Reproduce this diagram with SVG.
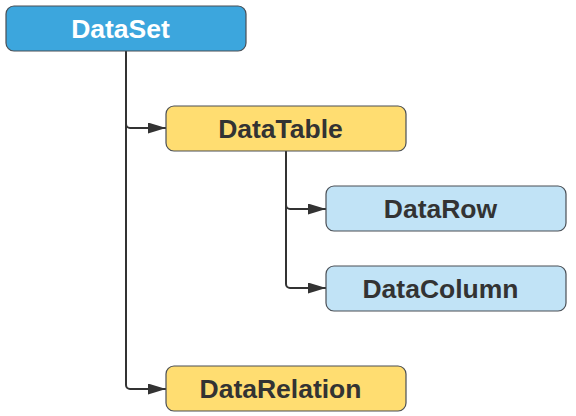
<svg xmlns="http://www.w3.org/2000/svg" width="576" height="416" viewBox="0 0 576 416">
<style>
.box{stroke:#4a4f55;stroke-width:1.2}
.blue{fill:#3ca6dd}
.yellow{fill:#ffdd71}
.light{fill:#c1e3f6}
.lbl{font-family:"Liberation Sans",Arial,sans-serif;font-weight:bold;font-size:26.5px;text-anchor:middle;fill:#333333}
.white{fill:#ffffff}
.conn{fill:none;stroke:#333333;stroke-width:2}
</style>
<defs>
<marker id="arr" markerUnits="userSpaceOnUse" markerWidth="18" markerHeight="11" refX="18" refY="5.5" orient="auto">
<path d="M0,0 L18,5.5 L0,11 z" fill="#333333"/>
</marker>
</defs>
<rect width="576" height="416" fill="#ffffff"/>
<g id="connectors">
<path class="conn" d="M126,51 V385 A4,4 0 0 0 130,389 H166" marker-end="url(#arr)"/>
<path class="conn" d="M126,124 A4,4 0 0 0 130,128 H166" marker-end="url(#arr)"/>
<path class="conn" d="M286,151 V284 A4,4 0 0 0 290,288 H326" marker-end="url(#arr)"/>
<path class="conn" d="M286,205 A4,4 0 0 0 290,209 H326" marker-end="url(#arr)"/>
</g>
<g id="DataSet">
<rect class="box blue" x="6" y="6" width="240" height="45" rx="8"/>
<text class="lbl white" x="120.5" y="38">DataSet</text>
</g>
<g id="DataTable">
<rect class="box yellow" x="166" y="106" width="240" height="45" rx="8"/>
<text class="lbl" x="280.5" y="138">DataTable</text>
</g>
<g id="DataRow">
<rect class="box light" x="326" y="186" width="240" height="45" rx="8"/>
<text class="lbl" x="440.5" y="218">DataRow</text>
</g>
<g id="DataColumn">
<rect class="box light" x="326" y="266" width="240" height="45" rx="8"/>
<text class="lbl" x="440.5" y="298">DataColumn</text>
</g>
<g id="DataRelation">
<rect class="box yellow" x="166" y="366" width="240" height="45" rx="8"/>
<text class="lbl" x="280.5" y="398">DataRelation</text>
</g>
</svg>
